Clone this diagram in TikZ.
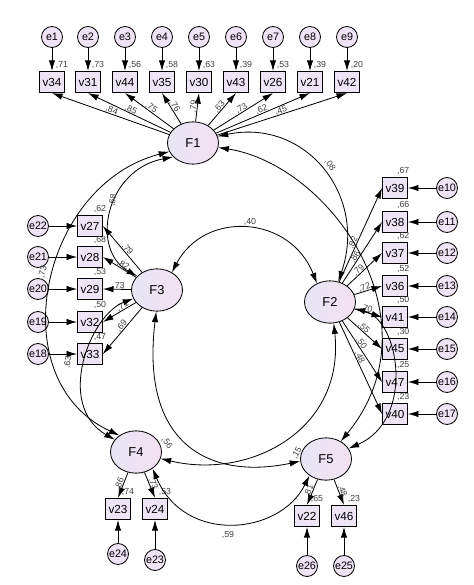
\documentclass[tikz,border=0pt]{standalone}
\usepackage{fontspec}
\setmainfont{Liberation Sans}
\usepackage{tikz}
\usetikzlibrary{arrows.meta,shapes.geometric}

\definecolor{latleft}{RGB}{230,230,244}
\definecolor{latright}{RGB}{243,224,243}
\definecolor{obsfill}{RGB}{237,229,245}
\definecolor{errfill}{RGB}{238,228,245}

\begin{document}
\begin{tikzpicture}[
  x=0.03cm, y=-0.03cm,
  latent/.style = {draw, ellipse, line width=0.7pt,
                   left color=latleft, right color=latright,
                   minimum width=1.53cm, minimum height=1.27cm,
                   inner sep=0pt, font=\fontsize{11}{12}\selectfont},
  obs/.style    = {draw, rectangle, line width=0.7pt, fill=obsfill,
                   minimum width=0.75cm, minimum height=0.64cm,
                   inner sep=0pt, font=\fontsize{10}{11}\selectfont},
  err/.style    = {draw, circle, line width=0.7pt, fill=errfill,
                   minimum size=0.63cm, inner sep=0pt,
                   font=\fontsize{9.2}{10}\selectfont},
  coef/.style   = {font=\fontsize{7.5}{8}\selectfont, inner sep=0.6pt, text=black!75},
  rsq/.style    = {coef, anchor=south west},
  arr/.style    = {-{Latex[length=9pt,width=5.5pt]}, line width=0.7pt},
  covarr/.style = {{Latex[length=9pt,width=5.5pt]}-{Latex[length=9pt,width=5.5pt]},
                   line width=0.7pt},
]
\useasboundingbox (0,0) rectangle (474,585);

%% ── Factors ──────────────────────────────────────────────────────────────────
\node[latent] (F1) at (193,143) {F1};
\node[latent] (F3) at (157,290) {F3};
\node[latent] (F2) at (330,302) {F2};
\node[latent] (F4) at (136,452) {F4};
\node[latent] (F5) at (326,459) {F5};

%% ── F1 indicators (top row) ──────────────────────────────────────────────────
\node[err] (e1) at (52,37)  {e1};
\node[err] (e2) at (88,37)  {e2};
\node[err] (e3) at (125,37) {e3};
\node[err] (e4) at (162,37) {e4};
\node[err] (e5) at (199,37) {e5};
\node[err] (e6) at (236,37) {e6};
\node[err] (e7) at (273,37) {e7};
\node[err] (e8) at (310,37) {e8};
\node[err] (e9) at (347,37) {e9};

\node[obs] (v34) at (52,82)  {v34};
\node[obs] (v31) at (88,82)  {v31};
\node[obs] (v44) at (125,82) {v44};
\node[obs] (v35) at (162,82) {v35};
\node[obs] (v30) at (199,82) {v30};
\node[obs] (v43) at (236,82) {v43};
\node[obs] (v26) at (273,82) {v26};
\node[obs] (v21) at (310,82) {v21};
\node[obs] (v42) at (347,82) {v42};

\draw[arr] (e1) -- (v34);
\draw[arr] (e2) -- (v31);
\draw[arr] (e3) -- (v44);
\draw[arr] (e4) -- (v35);
\draw[arr] (e5) -- (v30);
\draw[arr] (e6) -- (v43);
\draw[arr] (e7) -- (v26);
\draw[arr] (e8) -- (v21);
\draw[arr] (e9) -- (v42);

\node[rsq] at ([xshift=2.5pt,yshift=1pt]v34.north) {,71};
\node[rsq] at ([xshift=2.5pt,yshift=1pt]v31.north) {,73};
\node[rsq] at ([xshift=2.5pt,yshift=1pt]v44.north) {,56};
\node[rsq] at ([xshift=2.5pt,yshift=1pt]v35.north) {,58};
\node[rsq] at ([xshift=2.5pt,yshift=1pt]v30.north) {,63};
\node[rsq] at ([xshift=2.5pt,yshift=1pt]v43.north) {,39};
\node[rsq] at ([xshift=2.5pt,yshift=1pt]v26.north) {,53};
\node[rsq] at ([xshift=2.5pt,yshift=1pt]v21.north) {,39};
\node[rsq] at ([xshift=2.5pt,yshift=1pt]v42.north) {,20};

\draw[arr] (F1) -- node[coef, sloped, above=-1pt] {,84} (v34.south);
\draw[arr] (F1) -- node[coef, sloped, above=-1pt] {,85} (v31.south);
\draw[arr] (F1) -- node[coef, sloped, above=-1pt] {,75} (v44.south);
\draw[arr] (F1) -- node[coef, sloped, above=-1pt] {,76} (v35.south);
\draw[arr] (F1) -- node[coef, sloped, above=-1pt] {,79} (v30.south);
\draw[arr] (F1) -- node[coef, sloped, above=-1pt] {,63} (v43.south);
\draw[arr] (F1) -- node[coef, sloped, above=-1pt] {,73} (v26.south);
\draw[arr] (F1) -- node[coef, sloped, above=-1pt] {,62} (v21.south);
\draw[arr] (F1) -- node[coef, sloped, above=-1pt] {,45} (v42.south);

%% ── F3 indicators (left column) ──────────────────────────────────────────────
\node[err] (e22) at (38,226) {e22};
\node[err] (e21) at (38,257) {e21};
\node[err] (e20) at (38,289) {e20};
\node[err] (e19) at (38,322) {e19};
\node[err] (e18) at (38,354) {e18};

\node[obs] (v27) at (90,226) {v27};
\node[obs] (v28) at (90,257) {v28};
\node[obs] (v29) at (90,289) {v29};
\node[obs] (v32) at (90,322) {v32};
\node[obs] (v33) at (90,354) {v33};

\draw[arr] (e22) -- (v27);
\draw[arr] (e21) -- (v28);
\draw[arr] (e20) -- (v29);
\draw[arr] (e19) -- (v32);
\draw[arr] (e18) -- (v33);

\node[rsq] at ([xshift=2.5pt,yshift=1pt]v27.north) {,62};
\node[rsq] at ([xshift=2.5pt,yshift=1pt]v28.north) {,68};
\node[rsq] at ([xshift=2.5pt,yshift=1pt]v29.north) {,53};
\node[rsq] at ([xshift=2.5pt,yshift=1pt]v32.north) {,50};
\node[rsq] at ([xshift=2.5pt,yshift=1pt]v33.north) {,47};

\draw[arr] (F3) -- node[coef, sloped, above=-1pt, pos=.45] {,79} (v27.east);
\draw[arr] (F3) -- node[coef, sloped, above=-1pt, pos=.45] {,82} (v28.east);
\draw[arr] (F3) -- node[coef, sloped, above=-1pt, pos=.45] {,73} (v29.east);
\draw[arr] (F3) -- node[coef, sloped, above=-1pt, pos=.35] {,71} (v32.east);
\draw[arr] (F3) -- node[coef, sloped, above=-1pt, pos=.45] {,69} (v33.east);

%% ── F2 indicators (right column) ─────────────────────────────────────────────
\node[err] (e10) at (447,188) {e10};
\node[err] (e11) at (447,222) {e11};
\node[err] (e12) at (447,253) {e12};
\node[err] (e13) at (447,286) {e13};
\node[err] (e14) at (447,317) {e14};
\node[err] (e15) at (447,349) {e15};
\node[err] (e16) at (447,382) {e16};
\node[err] (e17) at (447,414) {e17};

\node[obs] (v39) at (395,188) {v39};
\node[obs] (v38) at (395,222) {v38};
\node[obs] (v37) at (395,253) {v37};
\node[obs] (v36) at (395,286) {v36};
\node[obs] (v41) at (395,317) {v41};
\node[obs] (v45) at (395,349) {v45};
\node[obs] (v47) at (395,382) {v47};
\node[obs] (v40) at (395,414) {v40};

\draw[arr] (e10) -- (v39);
\draw[arr] (e11) -- (v38);
\draw[arr] (e12) -- (v37);
\draw[arr] (e13) -- (v36);
\draw[arr] (e14) -- (v41);
\draw[arr] (e15) -- (v45);
\draw[arr] (e16) -- (v47);
\draw[arr] (e17) -- (v40);

\node[rsq] at ([xshift=1pt,yshift=1pt]v39.north) {,67};
\node[rsq] at ([xshift=1pt,yshift=1pt]v38.north) {,66};
\node[rsq] at ([xshift=1pt,yshift=1pt]v37.north) {,62};
\node[rsq] at ([xshift=1pt,yshift=1pt]v36.north) {,52};
\node[rsq] at ([xshift=1pt,yshift=1pt]v41.north) {,50};
\node[rsq] at ([xshift=1pt,yshift=1pt]v45.north) {,30};
\node[rsq] at ([xshift=1pt,yshift=1pt]v47.north) {,25};
\node[rsq] at ([xshift=1pt,yshift=1pt]v40.north) {,23};

\draw[arr] (F2) -- node[coef, sloped, above=-1pt, pos=.4] {,82} (v39.west);
\draw[arr] (F2) -- node[coef, sloped, above=-1pt, pos=.4] {,86} (v38.west);
\draw[arr] (F2) -- node[coef, sloped, above=-1pt, pos=.4] {,79} (v37.west);
\draw[arr] (F2) -- node[coef, sloped, above=-1pt, pos=.4] {,72} (v36.west);
\draw[arr] (F2) -- node[coef, sloped, above=-1pt, pos=.4] {,70} (v41.west);
\draw[arr] (F2) -- node[coef, sloped, above=-1pt, pos=.4] {,55} (v45.west);
\draw[arr] (F2) -- node[coef, sloped, above=-1pt, pos=.4] {,50} (v47.west);
\draw[arr] (F2) -- node[coef, sloped, above=-1pt, pos=.4] {,48} (v40.west);

%% ── F4 and F5 indicators (bottom) ────────────────────────────────────────────
\node[obs] (v23) at (118,509) {v23};
\node[obs] (v24) at (155,509) {v24};
\node[obs] (v22) at (307,516) {v22};
\node[obs] (v46) at (344,516) {v46};

\node[err] (e24) at (118,554) {e24};
\node[err] (e23) at (155,560) {e23};
\node[err] (e26) at (307,566) {e26};
\node[err] (e25) at (344,566) {e25};

\draw[arr] (e24) -- (v23);
\draw[arr] (e23) -- (v24);
\draw[arr] (e26) -- (v22);
\draw[arr] (e25) -- (v46);

\node[rsq] at ([xshift=2.5pt,yshift=1pt]v23.north) {,74};
\node[rsq] at ([xshift=2.5pt,yshift=1pt]v24.north) {,53};
\node[rsq] at ([xshift=2.5pt,yshift=1pt]v22.north) {,65};
\node[rsq] at ([xshift=2.5pt,yshift=1pt]v46.north) {,23};

\draw[arr] (F4) -- node[coef, sloped, above=-1pt, pos=.5] {,86} (v23.north);
\draw[arr] (F4) -- node[coef, sloped, above=-1pt, pos=.5] {,73} (v24.north);
\draw[arr] (F5) -- node[coef, sloped, above=-1pt, pos=.5] {,81} (v22.north);
\draw[arr] (F5) -- node[coef, sloped, above=-1pt, pos=.5] {,48} (v46.north);

%% ── Factor covariances ───────────────────────────────────────────────────────
\draw[covarr] (F1.15)  .. controls (305,118) and (368,195) .. (F2.68);
\draw[covarr] (F1.350) .. controls (330,165) and (440,320) .. (F5.50);
\draw[covarr] (F2.345) .. controls (400,320) and (415,420) .. (F5.25);
\draw[covarr] (F1.215) .. controls (105,170) and (90,250)  .. (F3.145);
\draw[covarr] (F1.200) .. controls (40,185)  and (0,380)   .. (F4.135);
\draw[covarr] (F3.200) .. controls (90,315)  and (55,405)  .. (F4.150);
\draw[covarr] (F3.50)  .. controls (205,210) and (290,215) .. (F2.125);
\draw[covarr] (F3.268) .. controls (140,445) and (210,480) .. (F5.185);
\draw[covarr] (F2.280) .. controls (345,430) and (250,480) .. (F4.345);
\draw[covarr] (F4.315) .. controls (185,545) and (280,535) .. (F5.225);

\node[coef, rotate=-55] at (330,165) {,08};
\node[coef, rotate=80]  at (113,200) {,68};
\node[coef, rotate=75]  at (43,272)  {,73};
\node[coef, rotate=80]  at (68,362)  {,63};
\node[coef]             at (250,222) {,40};
\node[coef, rotate=-55] at (167,443) {,56};
\node[coef, rotate=60]  at (297,453) {,15};
\node[coef]             at (228,535) {,59};

\end{tikzpicture}
\end{document}
